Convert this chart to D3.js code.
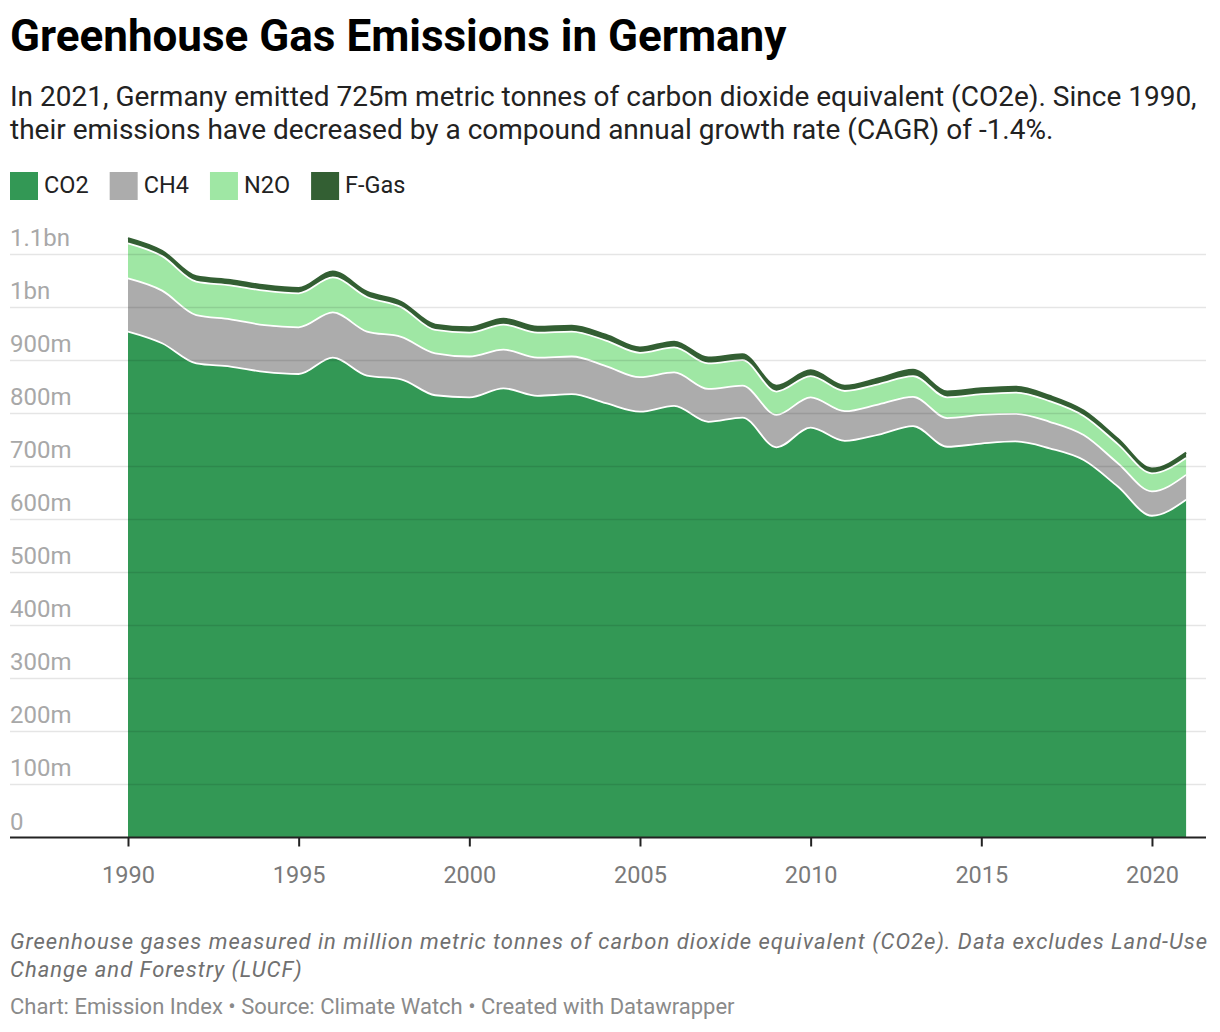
<!DOCTYPE html>
<html>
<head>
<meta charset="utf-8">
<script src="https://cdn.jsdelivr.net/npm/d3@7"></script>
<style>
  body { margin: 0; background: #fff; }
  svg { display: block; font-family: Roboto, sans-serif; }
</style>
</head>
<body>
<div id="chart"></div>
<script>
// values in million tonnes CO2e
const years = d3.range(1990, 2022);
const co2 = [953, 931, 893, 887, 877, 873, 904, 870, 863, 833, 829, 846, 832, 835, 818, 802,
             813, 783, 791, 735, 772, 747, 759, 775, 736, 742, 746, 733, 711, 661, 606, 636];
const ch4 = [100, 99, 91, 89, 88, 88, 85, 83, 80, 79, 77, 73, 72, 71, 70, 65,
             63, 62, 60, 61, 57, 56, 57, 55, 54, 54, 52, 50, 47, 44, 46, 47];
const n2o = [66, 65, 63, 64, 65, 64, 66, 65, 56, 44, 45, 47, 47, 47, 48, 46,
             47, 48, 48, 44, 40, 38, 38, 39, 39, 39, 40, 39, 36, 36, 34, 32];
const fgas = [10, 10, 10, 10, 10, 10, 11, 10, 10, 10, 10, 11, 11, 11, 11, 10,
              11, 11, 11, 11, 11, 10, 11, 12, 11, 11, 11, 10, 10, 10, 9, 10];

const seriesNames = ['CO2', 'CH4', 'N2O', 'F-Gas'];
const colors = ['#339855', '#acacac', '#9fe7a4', '#335f33'];
const yTicks = [0, 100, 200, 300, 400, 500, 600, 700, 800, 900, 1000, 1100];
const yTickLabels = ['0', '100m', '200m', '300m', '400m', '500m', '600m', '700m', '800m', '900m', '1bn', '1.1bn'];
const xTicks = [1990, 1995, 2000, 2005, 2010, 2015, 2020];

const width = 1220, height = 1032;

const svg = d3.select('#chart').append('svg')
    .attr('width', width)
    .attr('height', height);

// header
svg.append('text')
    .attr('x', 10).attr('y', 51)
    .attr('font-size', 44).attr('font-weight', 700).attr('fill', '#000')
    .text('Greenhouse Gas Emissions in Germany');

const subtitle = [
    'In 2021, Germany emitted 725m metric tonnes of carbon dioxide equivalent (CO2e). Since 1990,',
    'their emissions have decreased by a compound annual growth rate (CAGR) of -1.4%.'
];
svg.append('g').selectAll('text')
    .data(subtitle)
    .join('text')
    .attr('x', 10).attr('y', (d, i) => 106 + i * 33)
    .attr('font-size', 28).attr('fill', '#222')
    .text(d => d);

// legend
const legend = svg.append('g');
let lx = 10;
seriesNames.forEach(function (name, i) {
    legend.append('rect')
        .attr('x', lx).attr('y', 172)
        .attr('width', 28).attr('height', 28)
        .attr('fill', colors[i]);
    const t = legend.append('text')
        .attr('x', lx + 34).attr('y', 193)
        .attr('font-size', 23.5).attr('fill', '#222')
        .text(name);
    lx += 34 + t.node().getComputedTextLength() + 21;
});

// scales
const x = d3.scaleLinear().domain([1990, 2021]).range([128, 1186.1]);
const y = d3.scaleLinear().domain([0, 1100]).range([837.5, 253.5]);

const table = years.map((yr, i) => ({
    year: yr, 'CO2': co2[i], 'CH4': ch4[i], 'N2O': n2o[i], 'F-Gas': fgas[i]
}));
const stacked = d3.stack().keys(seriesNames)(table);

const area = d3.area()
    .curve(d3.curveMonotoneX)
    .x(d => x(d.data.year))
    .y0(d => y(d[0]))
    .y1(d => y(d[1]));

const topLine = d3.line()
    .curve(d3.curveMonotoneX)
    .x(d => x(d.data.year))
    .y(d => y(d[1]));

svg.append('g').selectAll('path')
    .data(stacked)
    .join('path')
    .attr('d', area)
    .attr('fill', (d, i) => colors[i]);

// white separators between layers, dark edge on top
svg.append('g').selectAll('path')
    .data(stacked)
    .join('path')
    .attr('d', topLine)
    .attr('fill', 'none')
    .attr('stroke', (d, i) => i === 3 ? colors[3] : '#fff')
    .attr('stroke-width', (d, i) => i === 3 ? 2 : 1.8);

// gridlines (faint, on top)
svg.append('g').selectAll('line')
    .data(yTicks.slice(1))
    .join('line')
    .attr('x1', 10).attr('x2', 1206)
    .attr('y1', d => Math.round(y(d)) + 0.5).attr('y2', d => Math.round(y(d)) + 0.5)
    .attr('stroke', '#000').attr('stroke-opacity', 0.1).attr('stroke-width', 1.6);

// y labels
svg.append('g').selectAll('text')
    .data(yTicks)
    .join('text')
    .attr('x', 10).attr('y', d => y(d) - 8)
    .attr('font-size', 24).attr('fill', '#a8a8a8')
    .text((d, i) => yTickLabels[i]);

// x axis
const xAxis = svg.append('g')
    .attr('transform', `translate(0,${y(0)})`)
    .call(d3.axisBottom(x).tickValues(xTicks).tickFormat(d3.format('d')).tickSize(9).tickSizeOuter(0));
xAxis.select('.domain').remove();
xAxis.selectAll('.tick line').attr('stroke', '#222').attr('stroke-width', 2);
xAxis.selectAll('.tick text')
    .attr('font-family', 'Roboto, sans-serif')
    .attr('font-size', 23.5).attr('fill', '#7a7a7a').attr('dy', 0).attr('y', 45);
svg.append('line')
    .attr('x1', 10).attr('x2', 1206)
    .attr('y1', y(0)).attr('y2', y(0))
    .attr('stroke', '#222').attr('stroke-width', 2);

// notes
const notes = [
    'Greenhouse gases measured in million metric tonnes of carbon dioxide equivalent (CO2e). Data excludes Land-Use',
    'Change and Forestry (LUCF)'
];
svg.append('g').selectAll('text')
    .data(notes)
    .join('text')
    .attr('x', 10).attr('y', (d, i) => 949 + i * 28)
    .attr('font-size', 22).attr('font-style', 'italic').attr('fill', '#707070')
    .attr('letter-spacing', 1)
    .text(d => d);

svg.append('text')
    .attr('x', 10).attr('y', 1014)
    .attr('font-size', 22).attr('fill', '#8a8a8a')
    .text('Chart: Emission Index \u2022 Source: Climate Watch \u2022 Created with Datawrapper');
</script>
</body>
</html>
